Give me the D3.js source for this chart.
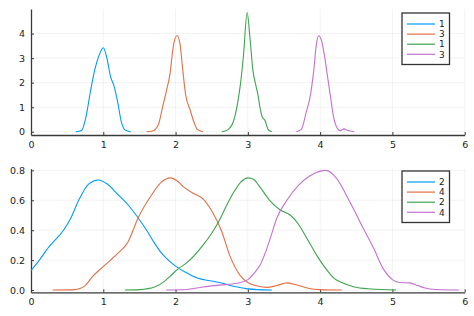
<!DOCTYPE html>
<html>
<head>
<meta charset="utf-8">
<script src="https://cdn.jsdelivr.net/npm/d3@7"></script>
<style>
  body { margin: 0; background: #fff; }
  text { font-family: "DejaVu Sans", sans-serif; }
</style>
</head>
<body>
<div id="chart"></div>
<script>
// density curves as [x, density]
const topBlue = [[0.62,0],[0.7,0.05],[0.76,0.6],[0.82,1.6],[0.88,2.5],[0.94,3.1],[1.0,3.42],[1.05,3.0],[1.1,2.25],[1.15,1.85],[1.2,1.2],[1.25,0.4],[1.3,0.08],[1.38,0]];
const topOrange = [[1.6,0],[1.68,0.03],[1.76,0.28],[1.82,1.0],[1.88,1.75],[1.92,2.3],[1.97,3.5],[2.02,3.92],[2.06,3.6],[2.1,2.5],[2.14,1.5],[2.2,0.9],[2.26,0.35],[2.3,0.1],[2.38,0]];
const topGreen = [[2.64,0],[2.72,0.08],[2.8,0.42],[2.86,1.2],[2.9,2.0],[2.94,3.13],[2.99,4.86],[3.03,3.8],[3.07,2.5],[3.11,1.9],[3.14,1.5],[3.17,0.95],[3.2,0.6],[3.24,0.45],[3.28,0.1],[3.33,0]];
const topPurple = [[3.67,0],[3.74,0.1],[3.81,0.83],[3.86,1.4],[3.91,2.45],[3.95,3.6],[3.98,3.91],[4.02,3.7],[4.06,3.1],[4.1,2.3],[4.14,1.5],[4.18,0.7],[4.22,0.25],[4.28,0.05],[4.33,0.12],[4.38,0.06],[4.47,0]];

const botBlue = [[0,0.13],[0.1,0.19],[0.25,0.29],[0.45,0.4],[0.55,0.48],[0.65,0.59],[0.8,0.71],[0.93,0.735],[1.05,0.71],[1.2,0.64],[1.35,0.565],[1.5,0.47],[1.6,0.4],[1.7,0.32],[1.8,0.25],[1.9,0.2],[2.0,0.16],[2.15,0.115],[2.3,0.08],[2.5,0.06],[2.65,0.045],[2.8,0.025],[3.0,0.008],[3.33,0]];
const botOrange = [[0.3,0],[0.6,0.003],[0.75,0.03],[0.85,0.09],[0.97,0.145],[1.1,0.2],[1.2,0.245],[1.34,0.32],[1.48,0.48],[1.66,0.63],[1.8,0.72],[1.93,0.75],[2.02,0.73],[2.11,0.69],[2.25,0.645],[2.38,0.61],[2.5,0.53],[2.64,0.39],[2.75,0.23],[2.89,0.1],[3.0,0.05],[3.1,0.03],[3.26,0.018],[3.4,0.03],[3.54,0.048],[3.7,0.03],[3.85,0.01],[4.0,0.003],[4.3,0]];
const botGreen = [[1.3,0],[1.5,0.003],[1.71,0.02],[1.85,0.06],[1.92,0.09],[2.03,0.14],[2.15,0.18],[2.38,0.3],[2.5,0.38],[2.61,0.47],[2.7,0.56],[2.8,0.65],[2.9,0.72],[3.0,0.75],[3.08,0.74],[3.15,0.7],[3.31,0.595],[3.45,0.535],[3.59,0.5],[3.7,0.44],[3.8,0.36],[3.96,0.227],[4.1,0.13],[4.19,0.08],[4.3,0.05],[4.46,0.022],[4.7,0.007],[5.05,0]];
const botPurple = [[1.87,0],[2.15,0.004],[2.38,0.02],[2.61,0.033],[2.85,0.045],[3.0,0.07],[3.1,0.12],[3.17,0.167],[3.25,0.26],[3.31,0.345],[3.4,0.48],[3.54,0.6],[3.7,0.7],[3.85,0.76],[4.0,0.795],[4.08,0.8],[4.23,0.745],[4.41,0.59],[4.6,0.41],[4.74,0.28],[4.87,0.145],[5.0,0.07],[5.1,0.05],[5.24,0.048],[5.35,0.03],[5.45,0.014],[5.6,0.004],[5.92,0]];

const topLabels = ["1", "3", "1", "3"];
const botLabels = ["2", "4", "2", "4"];
const xTicks = [0, 1, 2, 3, 4, 5, 6];
const topYTicks = [0, 1, 2, 3, 4];
const botYTicks = [0, 0.2, 0.4, 0.6, 0.8];

const colors = ["#009afa", "#e36f47", "#3ea44e", "#c371d2"];

const W = 474, H = 316;

const svg = d3.select("#chart").append("svg")
  .attr("width", W)
  .attr("height", H);

const panels = [
  {series: [topBlue, topOrange, topGreen, topPurple], labels: topLabels,
   yTicks: topYTicks, yDomain: [-0.13, 5.0], fmt: d3.format("d"),
   top: 9, bottom: 135, legendTop: 13},
  {series: [botBlue, botOrange, botGreen, botPurple], labels: botLabels,
   yTicks: botYTicks, yDomain: [-0.015, 0.811], fmt: d3.format(".1f"),
   top: 168.7, bottom: 292.3, legendTop: 171}
];

const left = 31, right = 464.7;

panels.forEach(p => {
  const x = d3.scaleLinear().domain([0, 6]).range([left, right]);
  const y = d3.scaleLinear().domain(p.yDomain).range([p.bottom, p.top]);

  const g = svg.append("g");

  // grid
  g.selectAll(".xgrid")
    .data(xTicks.slice(1))
    .enter().append("line")
      .attr("x1", d => x(d)).attr("x2", d => x(d))
      .attr("y1", p.top).attr("y2", p.bottom)
      .attr("stroke", "#000").attr("stroke-opacity", 0.1).attr("stroke-width", 0.5);

  g.selectAll(".ygrid")
    .data(p.yTicks)
    .enter().append("line")
      .attr("x1", left).attr("x2", right)
      .attr("y1", d => y(d)).attr("y2", d => y(d))
      .attr("stroke", "#000").attr("stroke-opacity", 0.1).attr("stroke-width", 0.5);

  // axes
  const xAxis = g.append("g")
    .attr("transform", `translate(0, ${p.bottom})`)
    .call(d3.axisBottom(x).tickValues(xTicks).tickFormat(d3.format("d"))
      .tickSizeInner(-3).tickSizeOuter(0).tickPadding(6));

  const yAxis = g.append("g")
    .attr("transform", `translate(${left}, 0)`)
    .call(d3.axisLeft(y).tickValues(p.yTicks).tickFormat(p.fmt)
      .tickSizeInner(-3).tickSizeOuter(0).tickPadding(6));

  [xAxis, yAxis].forEach(a => {
    a.select(".domain").attr("stroke", "#3a3a3a").attr("stroke-width", 1.3);
    a.selectAll(".tick line").attr("stroke", "#3a3a3a").attr("stroke-width", 1);
    a.selectAll("text").attr("fill", "#222").style("font-size", "9.5px")
      .style("font-family", "'DejaVu Sans', sans-serif");
  });

  // curves
  const line = d3.line()
    .x(d => x(d[0]))
    .y(d => y(d[1]))
    .curve(d3.curveMonotoneX);

  g.selectAll(".curve")
    .data(p.series)
    .enter().append("path")
      .attr("d", line)
      .attr("fill", "none")
      .attr("stroke", (d, i) => colors[i])
      .attr("stroke-width", 1.1);

  // legend
  const lg = g.append("g").attr("transform", `translate(402, ${p.legendTop})`);
  lg.append("rect")
    .attr("width", 47.5).attr("height", 51.5)
    .attr("fill", "#fff")
    .attr("stroke", "#333").attr("stroke-width", 1.3);

  p.labels.forEach((lab, i) => {
    const ry = 11 + i * 10.1;
    lg.append("line")
      .attr("x1", 5).attr("x2", 33)
      .attr("y1", ry).attr("y2", ry)
      .attr("stroke", colors[i]).attr("stroke-width", 1.2);
    lg.append("text")
      .attr("x", 37).attr("y", ry)
      .attr("dy", "0.36em")
      .style("font-size", "9px")
      .attr("fill", "#222")
      .text(lab);
  });
});
</script>
</body>
</html>
